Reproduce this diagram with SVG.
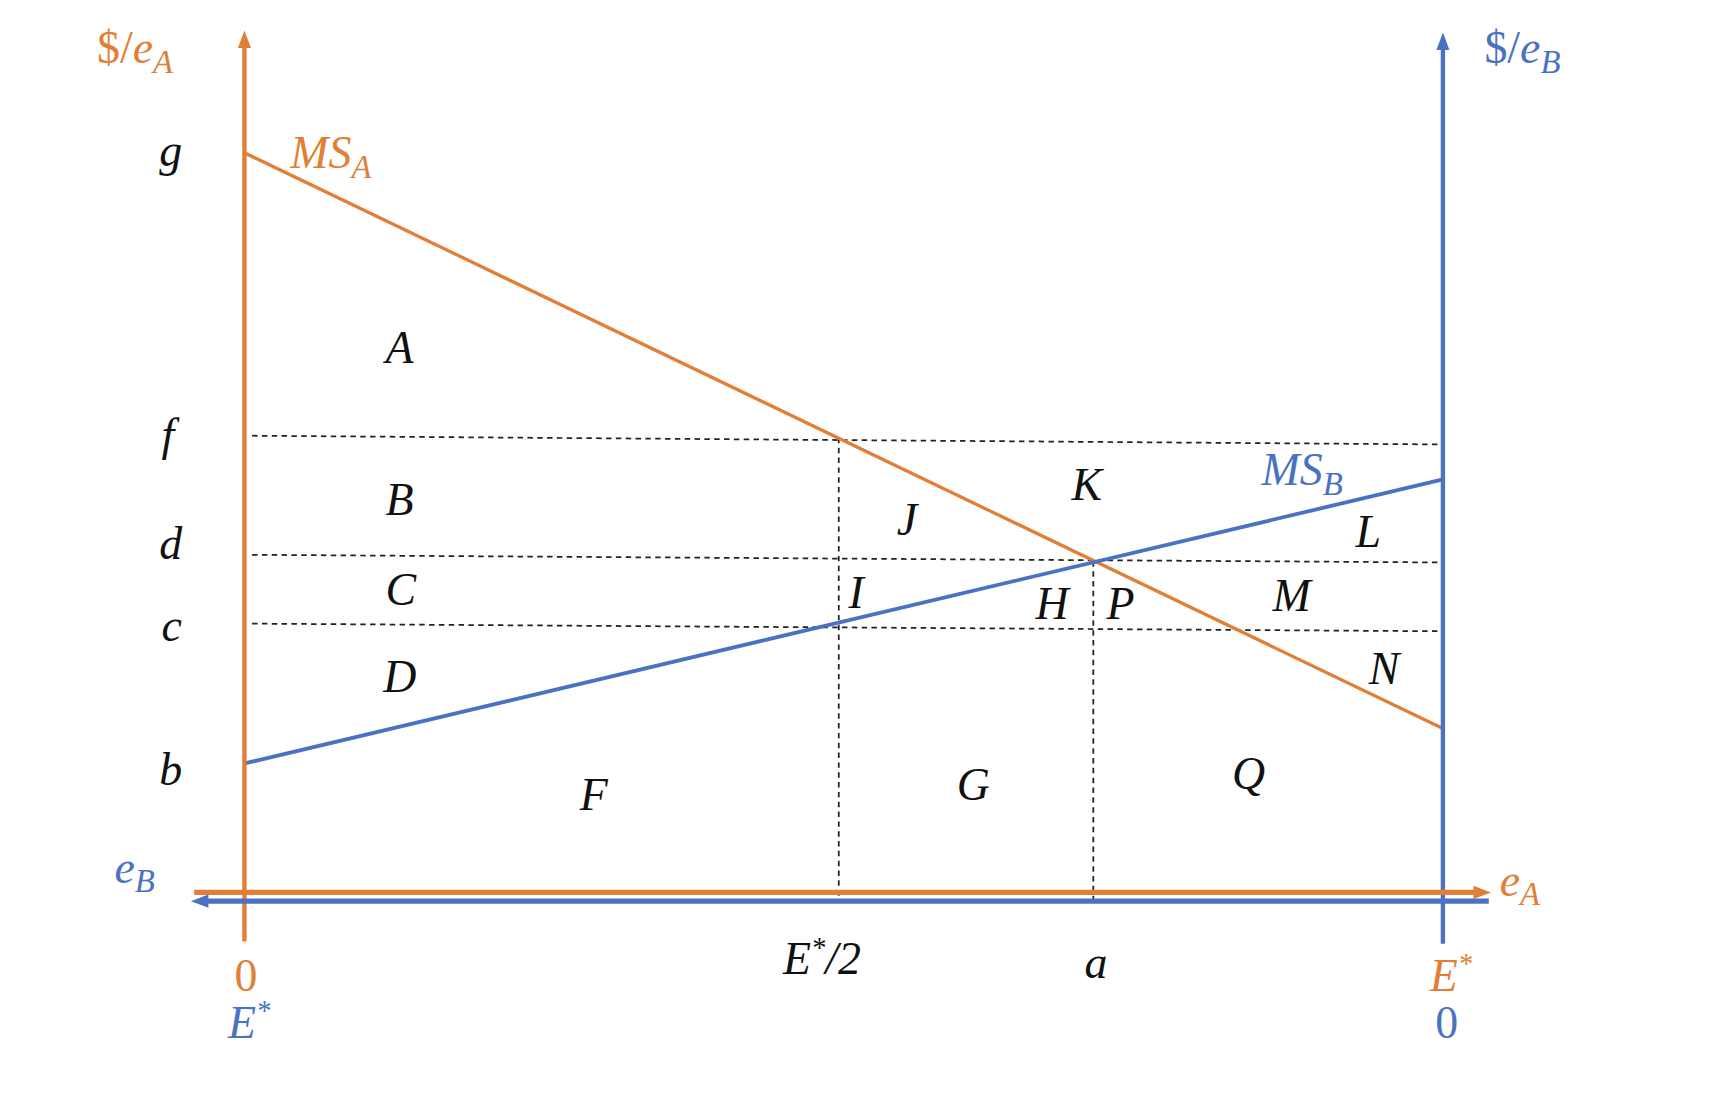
<svg xmlns="http://www.w3.org/2000/svg" width="1712" height="1104" viewBox="0 0 1712 1104">
<style>
text{font-family:"Liberation Serif","DejaVu Serif",serif;font-style:italic;font-size:42px}
.o{fill:#E07F35}.b{fill:#4A72C4}.k{fill:#111}
.d{stroke:#222;stroke-width:1.6;stroke-dasharray:5 4;fill:none}
</style>
<rect width="1712" height="1104" fill="#fff"/>
<g transform="translate(3,2) scale(1.0925)">
<g id="connectors">
<line class="d" x1="228" y1="397" x2="1318" y2="405"/>
<line class="d" x1="228" y1="506" x2="1318" y2="513"/>
<line class="d" x1="228" y1="569" x2="1318" y2="576"/>
<line class="d" x1="765" y1="399" x2="765" y2="823"/>
<line class="d" x1="998" y1="512" x2="998" y2="823"/>
<line x1="221" y1="138" x2="1318" y2="665" stroke="#E07F35" stroke-width="3"/>
<line x1="221" y1="697" x2="1318" y2="437" stroke="#4A72C4" stroke-width="3.5"/>
<line x1="221" y1="860" x2="221" y2="36" stroke="#E07F35" stroke-width="4"/>
<path d="M221,26 L215,42 L227,42z" fill="#E07F35"/>
<line x1="1318" y1="862" x2="1318" y2="40" stroke="#4A72C4" stroke-width="4"/>
<path d="M1318,28 L1312,44 L1324,44z" fill="#4A72C4"/>
<line x1="175" y1="815" x2="1350" y2="815" stroke="#E07F35" stroke-width="5"/>
<path d="M1362,815 L1346,809 L1346,821z" fill="#E07F35"/>
<line x1="186" y1="823" x2="1360" y2="823" stroke="#4A72C4" stroke-width="5"/>
<path d="M172,823 L188,817 L188,829z" fill="#4A72C4"/>
</g>
<g id="labels">
<text class="o" x="86" y="56" style="font-style:normal">$/<tspan font-style="italic">e</tspan><tspan font-style="italic" font-size="30" dy="9">A</tspan></text>
<text class="b" x="1356" y="56" style="font-style:normal">$/<tspan font-style="italic">e</tspan><tspan font-style="italic" font-size="30" dy="9">B</tspan></text>
<text class="o" x="263" y="152">MS<tspan font-size="30" dy="9">A</tspan></text>
<text class="b" x="1152" y="442">MS<tspan font-size="30" dy="9">B</tspan></text>
<text class="b" x="102" y="806">e<tspan font-size="30" dy="9">B</tspan></text>
<text class="o" x="1370" y="818">e<tspan font-size="30" dy="9">A</tspan></text>
<text class="k" x="143" y="150">g</text>
<text class="k" x="145" y="410">f</text>
<text class="k" x="143" y="510">d</text>
<text class="k" x="145" y="585">c</text>
<text class="k" x="143" y="717">b</text>
<text class="k" x="350" y="330">A</text>
<text class="k" x="350" y="470">B</text>
<text class="k" x="350" y="552">C</text>
<text class="k" x="348" y="632">D</text>
<text class="k" x="528" y="740">F</text>
<text class="k" x="873" y="730">G</text>
<text class="k" x="1125" y="720">Q</text>
<text class="k" x="818" y="488">J</text>
<text class="k" x="978" y="456">K</text>
<text class="k" x="774" y="555">I</text>
<text class="k" x="945" y="565">H</text>
<text class="k" x="1010" y="565">P</text>
<text class="k" x="1238" y="499">L</text>
<text class="k" x="1162" y="557">M</text>
<text class="k" x="1250" y="624">N</text>
<text class="k" x="714" y="890">E<tspan font-size="26" dy="-16">*</tspan><tspan dy="16">/2</tspan></text>
<text class="k" x="990" y="893">a</text>
<text class="o" x="212" y="905" style="font-style:normal">0</text>
<text class="b" x="206" y="948">E<tspan font-size="26" dy="-16">*</tspan></text>
<text class="o" x="1306" y="905">E<tspan font-size="26" dy="-16">*</tspan></text>
<text class="b" x="1311" y="948" style="font-style:normal">0</text>
</g>
</g>
</svg>
